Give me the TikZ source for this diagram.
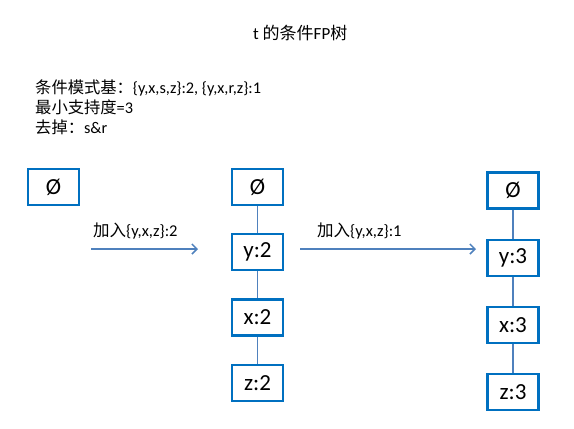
\documentclass[tikz,border=0pt]{standalone}
\usepackage{fontspec}
\setmainfont{Carlito}
\newfontfamily\cjk{Noto Sans CJK SC}
\usetikzlibrary{positioning,arrows.meta}
\definecolor{boxblue}{HTML}{0070C0}
\definecolor{linkblue}{HTML}{4F81BD}
\begin{document}
\begin{tikzpicture}[x=1pt,y=-1pt,
  box node/.style={draw=boxblue,line width=2.25pt,minimum width=51pt,minimum height=36pt,
    inner sep=0pt,font=\fontsize{23}{23}\selectfont},
  text node/.style={anchor=base west,inner sep=0pt,font=\fontsize{16.3}{20}\selectfont},
  link/.style={draw=linkblue,line width=1.5pt},
  step arrow/.style={draw=linkblue,line width=1.5pt,-{Straight Barb[length=5pt,width=10pt]}}]

  \useasboundingbox (0,0) rectangle (574,429);

  % title and notes
  \node[text node,font=\fontsize{17}{20}\selectfont] (title) at (253,39) {t {\cjk 的条件}FP{\cjk 树}};
  \node[text node] (base) at (35,93) {{\cjk 条件模式基：}\{y,x,s,z\}:2, \{y,x,r,z\}:1};
  \node[text node] (sup) at (35,113) {{\cjk 最小支持度}=3};
  \node[text node] (drop) at (35,133) {{\cjk 去掉：}s\&r};

  % empty tree
  \node[box node] (r0) at (53.5,187) {Ø};

  % tree after first path
  \node[box node] (r1) at (257.5,187) {Ø};
  \node[box node,below=27pt of r1] (y1) {y:2};
  \node[box node,below=27pt of y1] (x1) {x:2};
  \node[box node,below=27pt of x1] (z1) {z:2};

  % tree after second path
  \node[box node] (r2) at (513,190.5) {Ø};
  \node[box node,below=29pt of r2] (y2) {y:3};
  \node[box node,below=29pt of y2] (x2) {x:3};
  \node[box node,below=29pt of x2] (z2) {z:3};

  \path[every edge/.style={link}]
   (r1) edge (y1)
   (y1) edge (x1)
   (x1) edge (z1)
   (r2) edge (y2)
   (y2) edge (x2)
   (x2) edge (z2);

  % steps
  \coordinate (s1a) at (91,249);
  \coordinate (s1b) at (198,249);
  \coordinate (s2a) at (300,249);
  \coordinate (s2b) at (476,249);
  \draw[step arrow] (s1a) -- (s1b);
  \draw[step arrow] (s2a) -- (s2b);
  \node[text node,font=\fontsize{16.5}{20}\selectfont] (add1) at (93,236) {{\cjk 加入}\{y,x,z\}:2};
  \node[text node,font=\fontsize{16.5}{20}\selectfont] (add2) at (317,236) {{\cjk 加入}\{y,x,z\}:1};
\end{tikzpicture}
\end{document}
